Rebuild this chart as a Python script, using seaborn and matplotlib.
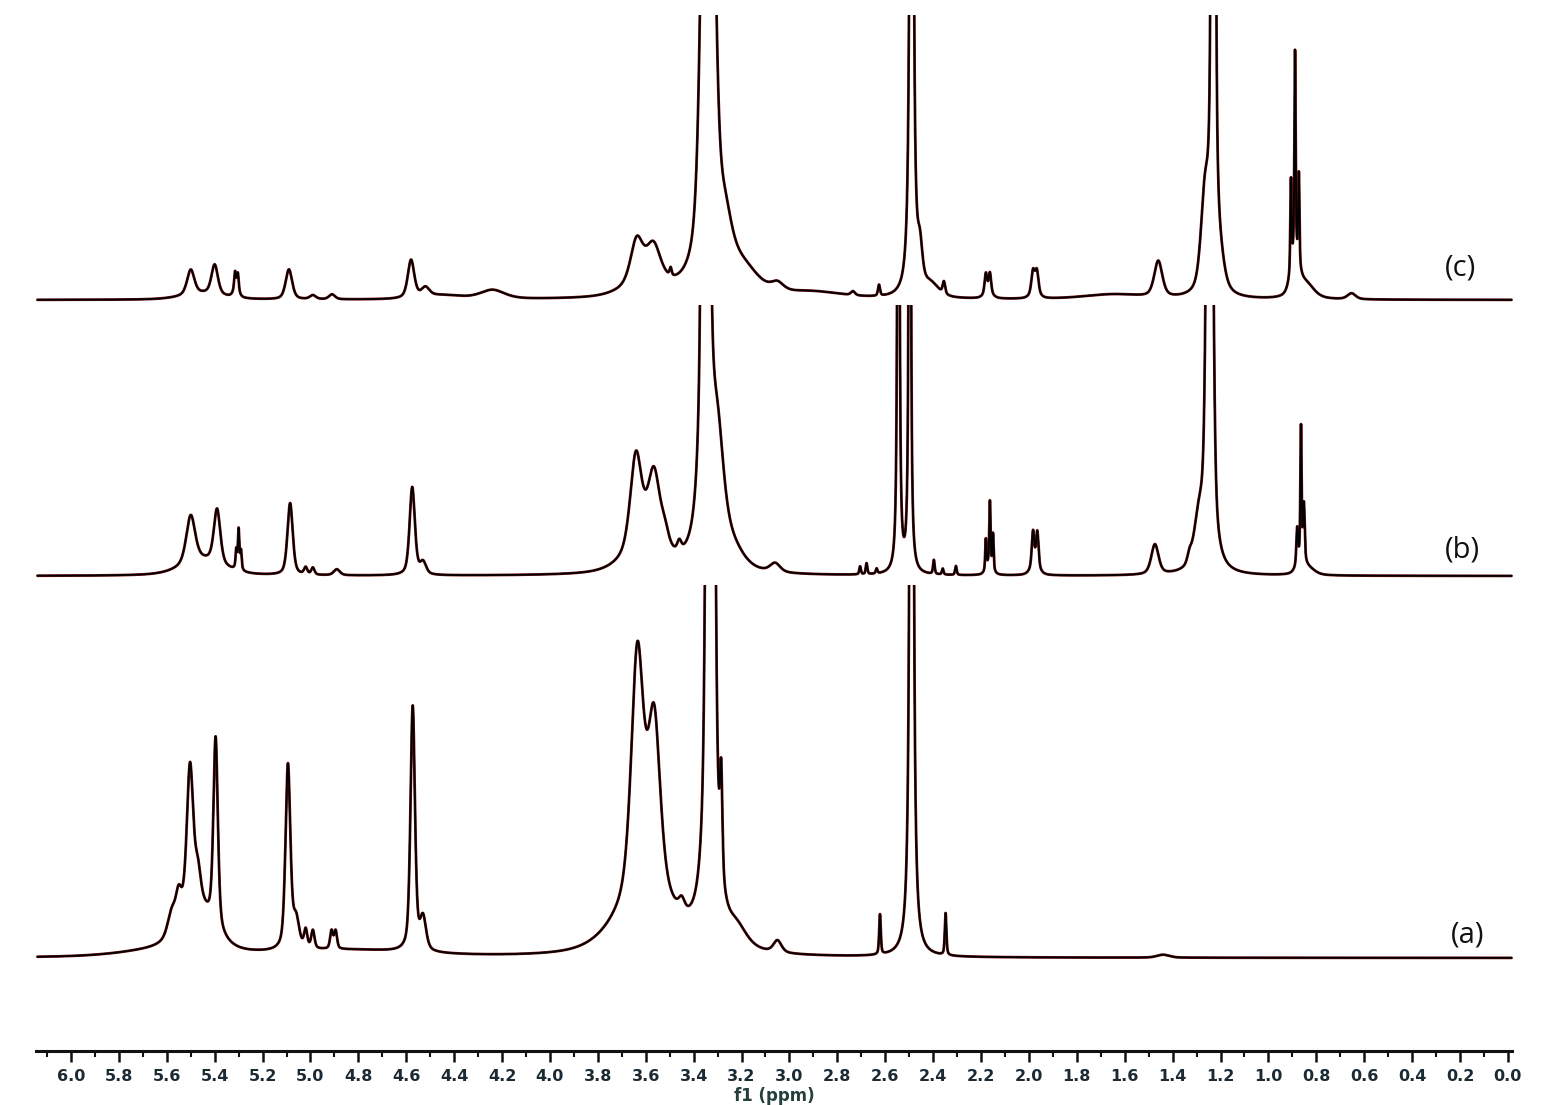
import numpy as np
import pandas as pd
import matplotlib
matplotlib.use("Agg")
import matplotlib.pyplot as plt
import seaborn as sns
from matplotlib.patches import Rectangle
from matplotlib.ticker import MultipleLocator, FormatStrFormatter

# Peak tables.
# shift in ppm, amplitude in px above the trace baseline, half width in ppm
a_shift = [5.62, 5.47, 5.58, 5.55, 5.503, 5.47, 5.396, 5.094, 5.06, 5.02, 4.99,
           4.912, 4.895, 4.85, 4.573, 4.53, 3.60, 3.635, 3.565, 3.45, 3.33,
           3.285, 3.22, 3.05, 2.622, 2.49, 2.348, 1.44]
a_amp = [6, 45, 22, 30, 145, 30, 190, 185, 28, 18, 18,
         18, 18, 7, 245, 32, 62, 240, 170, 12, 2555,
         100, 18, 12, 40, 10000, 42, 3]
a_hwhm = [0.2, 0.08, 0.02, 0.015, 0.016, 0.014, 0.011, 0.012, 0.015, 0.008, 0.008,
          0.007, 0.007, 0.35, 0.011, 0.015, 0.14, 0.03, 0.03, 0.015, 0.012,
          0.006, 0.05, 0.02, 0.004, 0.003, 0.004, 0.03]

b_shift = [5.45, 5.50, 5.39, 5.31, 5.30, 5.29, 5.30, 5.085, 5.02, 4.99, 4.89,
           4.575, 4.53, 3.60, 3.641, 3.566, 3.52, 3.46, 3.35, 3.30, 3.25, 3.06,
           2.705, 2.678, 2.636, 2.545, 2.4975, 2.397, 2.36, 2.305,
           2.18, 2.163, 2.15, 2.165, 1.983, 1.965, 1.975, 1.474, 1.33, 1.29,
           1.2455, 0.88, 0.864, 0.852, 0.865, 0.83]
b_amp = [15, 48, 55, 15, 30, 15, 12, 72, 7, 7, 6,
         88, 12, 25, 95, 75, 15, 10, 3050, 100, 22, 9,
         8, 11, 5, 5440, 5440, 14, 6, 9,
         30, 62, 35, 12, 35, 35, 10, 30, 8, 45,
         960, 35, 130, 55, 15, 6]
b_hwhm = [0.1, 0.022, 0.016, 0.003, 0.003, 0.003, 0.01, 0.013, 0.008, 0.008, 0.015,
          0.013, 0.015, 0.1, 0.028, 0.03, 0.02, 0.01, 0.01, 0.03, 0.06, 0.025,
          0.004, 0.004, 0.004, 0.002, 0.002, 0.004, 0.004, 0.004,
          0.003, 0.003, 0.003, 0.015, 0.006, 0.006, 0.02, 0.018, 0.01, 0.025,
          0.012, 0.004, 0.003, 0.004, 0.02, 0.03]

c_shift = [5.45, 5.50, 5.40, 5.315, 5.303, 5.31, 5.09, 4.99, 4.91, 4.58, 4.52,
           4.45, 4.24, 3.60, 3.638, 3.568, 3.496, 3.34, 3.27, 3.20, 3.05, 2.90,
           2.735, 2.626, 2.49, 2.455, 2.41, 2.355, 2.18, 2.163, 2.17,
           1.983, 1.967, 1.975, 1.65, 1.46, 1.265, 1.23, 1.20,
           0.906, 0.889, 0.873, 0.89, 0.845, 0.653]
c_amp = [6, 25, 30, 15, 15, 12, 30, 4, 5, 38, 9,
         4, 9, 15, 42, 35, 8, 885, 45, 25, 8, 6,
         4, 11, 8200, 35, 12, 12, 20, 20, 6,
         22, 22, 6, 5, 36, 90, 2485, 20,
         90, 200, 90, 40, 15, 6]
c_hwhm = [0.1, 0.018, 0.016, 0.004, 0.004, 0.012, 0.016, 0.015, 0.015, 0.016, 0.02,
          0.1, 0.06, 0.1, 0.03, 0.035, 0.005, 0.025, 0.035, 0.08, 0.03, 0.15,
          0.01, 0.005, 0.003, 0.012, 0.04, 0.006, 0.006, 0.006, 0.02,
          0.008, 0.008, 0.02, 0.15, 0.02, 0.02, 0.006, 0.02,
          0.003, 0.003, 0.003, 0.02, 0.04, 0.02]

trace_names = ["(a)", "(b)", "(c)"]
trace_offset = [93, 475, 751]       # baseline of each trace
trace_ceiling = [466, 746, 1036]    # where the tall peaks are cut off
label_ppm = [0.17, 0.19, 0.20]
label_y = [116, 501, 783]


def lineshape(ppm, shifts, amps, widths, eta=0.5):
    y = np.zeros_like(ppm)
    for c, h, w in zip(shifts, amps, widths):
        d = (ppm - c) / w
        y += h * (eta / (1 + d ** 2) + (1 - eta) * np.exp(-np.log(2) * d ** 2))
    return y


ppm = np.linspace(6.14, -0.015, 14000)
tables = [(a_shift, a_amp, a_hwhm), (b_shift, b_amp, b_hwhm), (c_shift, c_amp, c_hwhm)]
frames = []
for name, off, tab in zip(trace_names, trace_offset, tables):
    frames.append(pd.DataFrame({"ppm": ppm,
                                "intensity": off + lineshape(ppm, *tab),
                                "trace": name}))
spec = pd.concat(frames, ignore_index=True)

sns.set_style("white")
fig = plt.figure(figsize=(15.46, 11.05), dpi=100)
ax = fig.add_axes([36 / 1546, 54 / 1105, 1476 / 1546, 1051 / 1105])

for name, ceil in zip(trace_names, trace_ceiling):
    sub = spec[spec["trace"] == name]
    for col, lw in [("#7a1414", 2.0), ("black", 1.3)]:
        sns.lineplot(data=sub, x="ppm", y="intensity", color=col, linewidth=lw,
                     estimator=None, sort=False, ax=ax)
        line = ax.lines[-1]
        line.set_clip_path(Rectangle((-1, -100), 8, ceil + 100, transform=ax.transData))

for name, x, y in zip(trace_names, label_ppm, label_y):
    ax.text(x, y, name, fontsize=21, family="Open Sans", ha="center", va="center",
            color="#111111")

ax.set_xlim(6.146, -0.017)
ax.set_ylim(0, 1051)
ax.set_ylabel("")
ax.set_xlabel("")
ax.set_yticks([])
for s in ["left", "right", "top"]:
    ax.spines[s].set_visible(False)
ax.spines["bottom"].set_linewidth(2.2)
ax.spines["bottom"].set_color("#111111")
ax.xaxis.set_major_locator(MultipleLocator(0.2))
ax.xaxis.set_minor_locator(MultipleLocator(0.1))
ax.xaxis.set_major_formatter(FormatStrFormatter("%.1f"))
ax.tick_params(axis="x", which="both", bottom=True, top=False)
ax.tick_params(axis="x", which="major", length=8, width=1.8, direction="out",
               pad=5, labelsize=11.5, labelcolor="#1c2b33", color="#111111")
ax.tick_params(axis="x", which="minor", length=4, width=1.5, direction="out",
               color="#111111")
for t in ax.get_xticklabels():
    t.set_fontweight("bold")

fig.text(774 / 1546, 1 - 1096 / 1105, "f1 (ppm)", fontsize=12, fontweight="bold",
         color="#23403a", ha="center", va="center")

fig.savefig("out.png", dpi=100)
